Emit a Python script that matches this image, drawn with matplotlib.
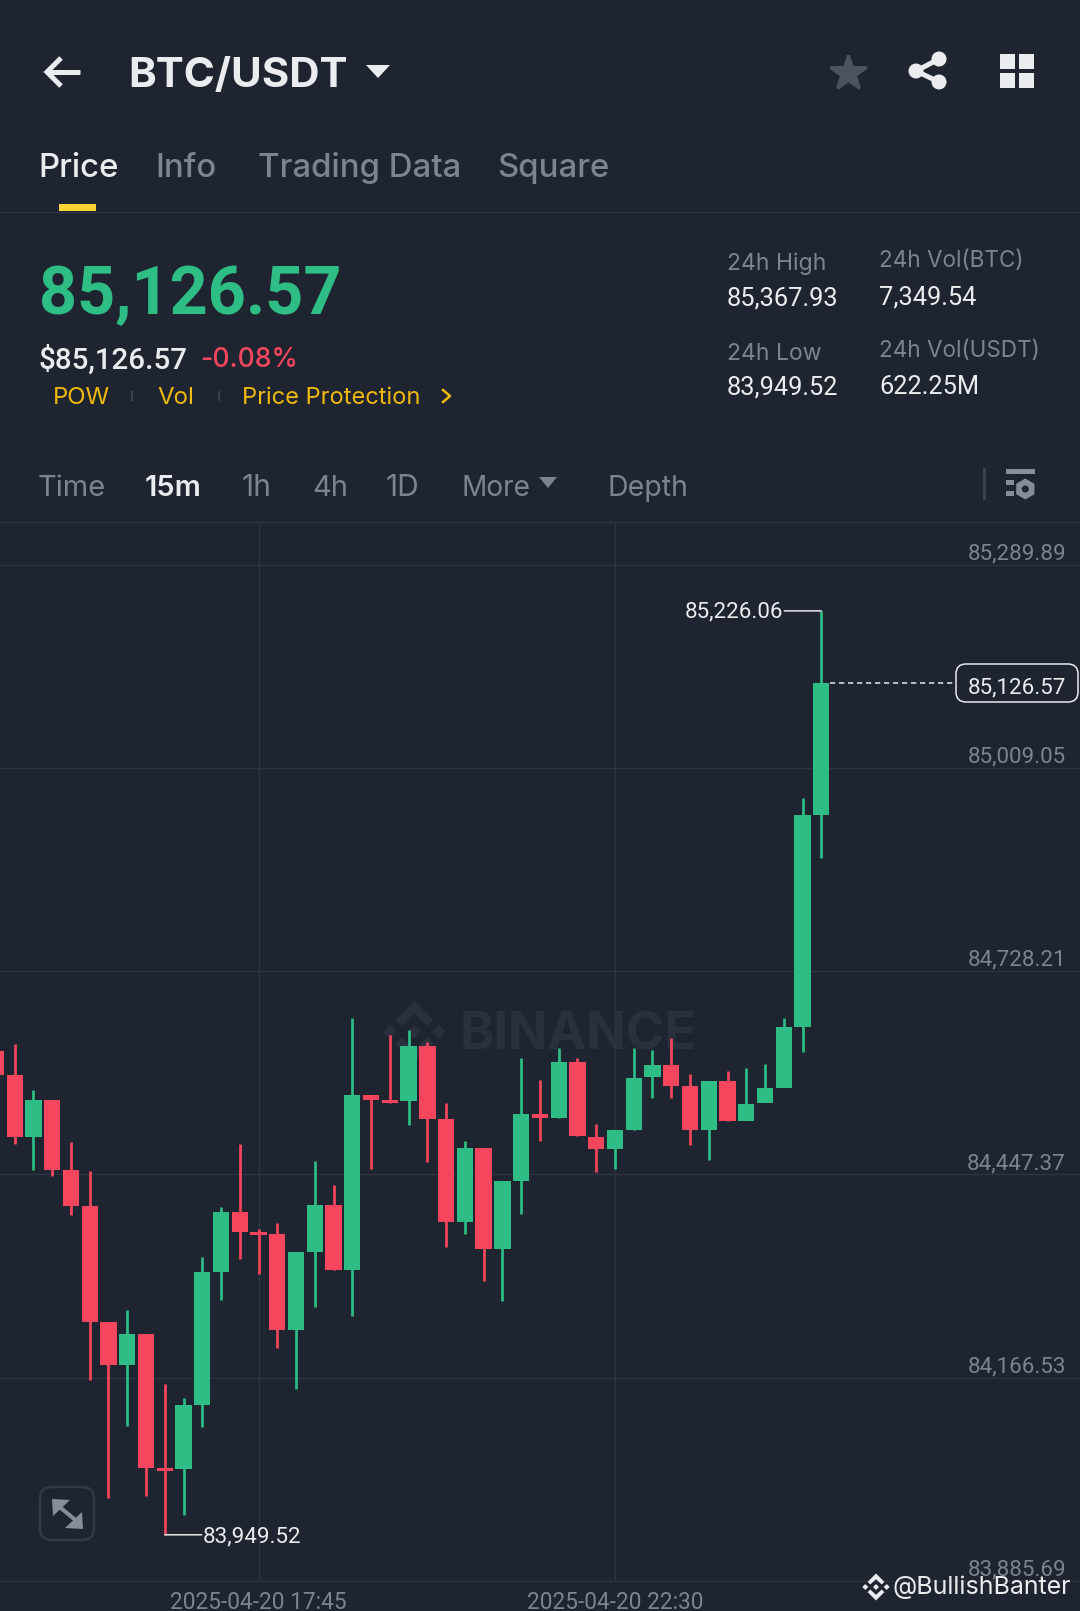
import matplotlib
matplotlib.use("Agg")
import matplotlib.pyplot as plt
from matplotlib.patches import FancyBboxPatch, Polygon, Circle, Rectangle, RegularPolygon

BG = '#1e2530'
GREEN = '#2ebd85'
RED = '#f6465d'
GREY = '#7c8490'
WHITE = '#eaecef'
GRID = '#2d3440'
AMBER = '#f0b90b'
MARK = '#2a313c'
NUM = ['Roboto', 'DejaVu Sans']
plt.rcParams['font.family'] = ['Inter', 'DejaVu Sans']

# candles (15m)
opens = [84618.2, 84584.8, 84498.6, 84550.8, 84453.3, 84403.7, 84244.2, 84183.8, 84227.4, 84041.5,
         84040.4, 84129.4, 84313.2, 84395.6, 84367.6, 84364.9, 84232.8, 84340.1, 84404.8, 84315.3,
         84557.3, 84549.8, 84549.1, 84625.5, 84523.8, 84381.1, 84484.2, 84344.8, 84438.7, 84531.6,
         84525.6, 84603.4, 84499.4, 84482.4, 84509.1, 84581.8, 84598.8, 84569.4, 84508.2, 84577.2,
         84521.5, 84545.9, 84566.6, 84651.3, 84943.8]
closes = [84584.8, 84498.6, 84550.8, 84453.3, 84403.7, 84244.2, 84183.8, 84227.4, 84042.0, 84038.3,
          84129.4, 84313.2, 84395.6, 84367.6, 84364.4, 84232.8, 84339.6, 84404.8, 84315.3, 84557.3,
          84549.8, 84546.5, 84625.5, 84524.7, 84381.1, 84484.2, 84344.8, 84438.7, 84531.6, 84525.6,
          84603.4, 84499.9, 84482.4, 84508.6, 84581.3, 84598.8, 84569.4, 84508.2, 84577.2, 84521.5,
          84545.4, 84566.6, 84650.8, 84943.8, 85126.57]
highs = [84640.0, 84627.9, 84564.3, 84550.8, 84492.6, 84452.2, 84244.2, 84259.8, 84227.4, 84157.9,
         84138.5, 84333.6, 84402.6, 84488.9, 84371.4, 84380.0, 84339.6, 84465.7, 84433.4, 84664.0,
         84557.3, 84640.3, 84646.7, 84630.1, 84545.9, 84493.4, 84484.2, 84438.7, 84608.0, 84578.6,
         84621.8, 84608.0, 84516.9, 84508.6, 84622.3, 84619.5, 84636.1, 84585.9, 84577.2, 84590.5,
         84594.2, 84599.7, 84663.2, 84967.2, 85226.06]
lows = [84570.0, 84489.4, 84453.8, 84444.7, 84391.8, 84163.3, 84000.0, 84100.2, 84003.8, 83949.52,
        83977.4, 84098.6, 84273.8, 84329.9, 84309.9, 84208.0, 84150.9, 84263.6, 84315.3, 84251.2,
        84454.9, 84546.5, 84516.0, 84464.0, 84347.5, 84365.0, 84300.1, 84272.5, 84393.1, 84493.0,
        84525.6, 84499.9, 84451.1, 84454.8, 84509.1, 84552.8, 84553.2, 84487.9, 84467.7, 84521.5,
        84545.4, 84566.6, 84650.8, 84616.3, 84885.0]

y_ticks = [85289.89, 85009.05, 84728.21, 84447.37, 84166.53, 83885.69]
y_labels = ['85,289.89', '85,009.05', '84,728.21', '84,447.37', '84,166.53', '83,885.69']
x_ticks = [14, 33]
x_labels = ['2025-04-20 17:45', '2025-04-20 22:30']

W, H = 1080, 1611
fig = plt.figure(figsize=(W / 100, H / 100), dpi=100, facecolor=BG)


def px(size):
    return size * 0.72


def draw_logo(axis, cx, cy, k, color):
    # two chevrons and three small diamonds
    for sign in (-1, 1):
        axis.add_patch(Polygon([(cx, cy + sign * 30.7 * k), (cx + 19 * k, cy + sign * 11.7 * k),
                                (cx + 13 * k, cy + sign * 5.7 * k), (cx, cy + sign * 17.7 * k),
                                (cx - 13 * k, cy + sign * 5.7 * k), (cx - 19 * k, cy + sign * 11.7 * k)],
                               color=color, lw=0))
    for dx in (-24.3, 0, 24.3):
        r = 6.8 * k
        x0 = cx + dx * k
        axis.add_patch(Polygon([(x0 - r, cy), (x0, cy - r), (x0 + r, cy), (x0, cy + r)], color=color, lw=0))


# -----------------------------------------------------------------------------------------
# App screen around the chart, in screen pixels
ui = fig.add_axes([0, 0, 1, 1])
ui.set_xlim(0, W)
ui.set_ylim(H, 0)
ui.axis('off')


def label(x, y, s, size, color=WHITE, weight='normal', ha='left', family=None):
    ui.text(x, y, s, fontsize=px(size), color=color, fontweight=weight, ha=ha, va='center_baseline',
            family=family)


# back arrow
ui.plot([47, 80], [72, 72], color=WHITE, lw=px(5), solid_capstyle='butt')
ui.plot([61, 47, 61], [58, 72, 86], color=WHITE, lw=px(5), solid_joinstyle='miter', solid_capstyle='butt')
label(128, 72, 'BTC/USDT', 42, weight='bold')
ui.add_patch(Polygon([(366, 65), (390, 65), (378, 78)], color=WHITE, lw=0))

# star, share, layout icons
ui.plot([848], [73], marker='*', ms=px(37), color='#4b5260', mew=px(3), mec='#4b5260')
ui.plot([916, 939], [71, 59], color=WHITE, lw=px(5))
ui.plot([916, 939], [71, 82], color=WHITE, lw=px(5))
for cx, cy in [(916, 71), (939, 59), (939, 82)]:
    ui.add_patch(Circle((cx, cy), 7.5, color=WHITE, lw=0))
for sx, sy in [(1000, 54), (1019, 54), (1000, 73), (1019, 73)]:
    ui.add_patch(Rectangle((sx, sy), 15, 15, color=WHITE, lw=0))

# tabs
label(38, 165, 'Price', 33, weight='medium')
label(155, 165, 'Info', 33, GREY, 'medium')
label(258, 165, 'Trading Data', 33, GREY, 'medium')
label(497, 165, 'Square', 33, GREY, 'medium')
ui.add_patch(Rectangle((59, 204), 37, 7, color='#fcd535', lw=0))
ui.plot([0, W], [211.5, 211.5], color=GRID, lw=1)

# price block
label(39, 289, '85,126.57', 66.5, GREEN, 'bold', family=NUM)
label(39, 357, '$85,126.57', 29.5, WHITE, 'medium', family=NUM)
label(200, 357, '-0.08%', 26.5, RED, 'medium')
label(53, 396, 'POW', 24, AMBER)
label(157, 396, 'Vol', 24, AMBER)
label(242, 396, 'Price Protection', 23.6, AMBER)
ui.plot([443, 450, 443], [390, 396, 402], color=AMBER, lw=px(2.5))
ui.plot([132, 132], [392, 400], color='#3a414d', lw=px(2))
ui.plot([219, 219], [392, 400], color='#3a414d', lw=px(2))

label(727, 261, '24h High', 23, GREY)
label(727, 296, '85,367.93', 25.4, family=NUM)
label(727, 351, '24h Low', 23, GREY)
label(727, 385, '83,949.52', 25.4, family=NUM)
label(879, 259, '24h Vol(BTC)', 22.5, GREY)
label(879, 295, '7,349.54', 25.4, family=NUM)
label(879, 349, '24h Vol(USDT)', 22.5, GREY)
label(879, 384, '622.25M', 25.4, family=NUM)

# interval row
label(38, 485, 'Time', 29, GREY)
label(145, 485, '15m', 29, WHITE, 'semibold')
label(242, 485, '1h', 30, GREY)
label(312, 485, '4h', 29, GREY)
label(386, 485, '1D', 30, GREY)
label(461, 485, 'More', 28, GREY)
ui.add_patch(Polygon([(539, 477), (557, 477), (548, 488)], color=GREY, lw=0))
label(607, 485, 'Depth', 28.5, GREY)
ui.plot([983.5, 983.5], [469, 498], color='#3a414d', lw=px(3))
ui.add_patch(Rectangle((1006, 469), 29, 5, color='#868e9a', lw=0))
ui.add_patch(Rectangle((1006, 480), 8, 5, color='#868e9a', lw=0))
ui.add_patch(Rectangle((1006, 491), 8, 5, color='#868e9a', lw=0))
ui.add_patch(RegularPolygon((1025.3, 489), 6, radius=10.5, color='#868e9a', lw=0))
ui.add_patch(Circle((1025.3, 489), 3.5, color=BG, lw=0))
ui.plot([0, W], [522, 522], color=GRID, lw=1)

# watermark sits under the chart
ui.text(460, 1049, 'BINANCE', fontsize=px(52), fontweight='bold', color=MARK, ha='left', va='baseline')
draw_logo(ui, 414.3, 1031.7, 1, MARK)

# -----------------------------------------------------------------------------------------
# Chart: 0 px to W across, 522 px to 1581 px down
ax = fig.add_axes([0, 1 - 1581 / H, 1, (1581 - 522) / H], facecolor='none')
ax.set_xlim(0.218, 57.79)
ax.set_ylim(83885.69, 85289.89 + (564.7 - 522) * 1.3816)
for s in ax.spines.values():
    s.set_visible(False)
ax.spines['bottom'].set_visible(True)
ax.spines['bottom'].set_color(GRID)
ax.set_xticks(x_ticks, x_labels, family=NUM)
ax.set_yticks(y_ticks, [])
ax.grid(True, color=GRID, lw=px(1.4))
ax.set_axisbelow(True)
ax.tick_params(axis='both', length=0)
ax.tick_params(axis='x', labelsize=px(22.6), labelcolor=GREY, pad=px(10))

for tick_val, tick_lab in zip(y_ticks, y_labels):
    ax.annotate(tick_lab, xy=(1, tick_val), xycoords=('axes fraction', 'data'), xytext=(px(-14), px(11)),
                textcoords='offset points', ha='right', va='center', fontsize=px(22.4), color=GREY, family=NUM)

for i, (o, h, l, c) in enumerate(zip(opens, highs, lows, closes)):
    col = GREEN if c >= o else RED
    ax.vlines(i, l, h, color=col, lw=px(2.7), zorder=3)
    ax.bar(i, abs(c - o), bottom=min(o, c), width=0.87, color=col, zorder=3)

# high, low and last price markers
hi_i = highs.index(max(highs))
lo_i = lows.index(min(lows))
ax.annotate('85,226.06', xy=(hi_i, highs[hi_i]), xytext=(px(-38), px(-1)), textcoords='offset points', ha='right',
            va='center', fontsize=px(22.4), color=WHITE, zorder=4, family=NUM)
ax.annotate('', xy=(hi_i, highs[hi_i]), xytext=(px(-37), 0), textcoords='offset points',
            arrowprops=dict(arrowstyle='-', color=WHITE, lw=px(1.5), shrinkA=0, shrinkB=0))
ax.annotate('83,949.52', xy=(lo_i, lows[lo_i]), xytext=(px(38), px(-2)), textcoords='offset points', ha='left',
            va='center', fontsize=px(22.4), color=WHITE, zorder=4, family=NUM)
ax.annotate('', xy=(lo_i, lows[lo_i]), xytext=(px(37), 0), textcoords='offset points',
            arrowprops=dict(arrowstyle='-', color=WHITE, lw=px(1.5), shrinkA=0, shrinkB=0))
ax.plot([44.45, 51.2], [closes[-1], closes[-1]], color=WHITE, lw=px(1.5), dashes=(3.5, 2.5), zorder=2)

top = fig.add_axes([0, 0, 1, 1], facecolor='none')
top.set_xlim(0, W)
top.set_ylim(H, 0)
top.axis('off')
top.add_patch(FancyBboxPatch((956, 664), 122, 38, boxstyle='round,pad=0,rounding_size=10', fc=BG, ec=WHITE,
                             lw=px(1.5)))
top.text(1066, 688, '85,126.57', fontsize=px(22.4), color=WHITE, ha='right', va='center', family=NUM)

# expand button
top.add_patch(FancyBboxPatch((40, 1487), 54, 53, boxstyle='round,pad=0,rounding_size=12', fc='none',
                             ec='#333a46', lw=px(2.5)))
top.plot([57, 78], [1505, 1522], color='#868e9a', lw=px(4))
top.add_patch(Polygon([(52, 1499), (70, 1500), (53, 1516)], color='#868e9a', lw=0))
top.add_patch(Polygon([(83, 1529), (65, 1528), (82, 1512)], color='#868e9a', lw=0))

# corner tag
draw_logo(top, 876, 1587, 0.44, WHITE)
top.text(893, 1587, '@BullishBanter', fontsize=px(25), color=WHITE, ha='left', va='center')

fig.savefig('out.png', dpi=100, facecolor=BG)
